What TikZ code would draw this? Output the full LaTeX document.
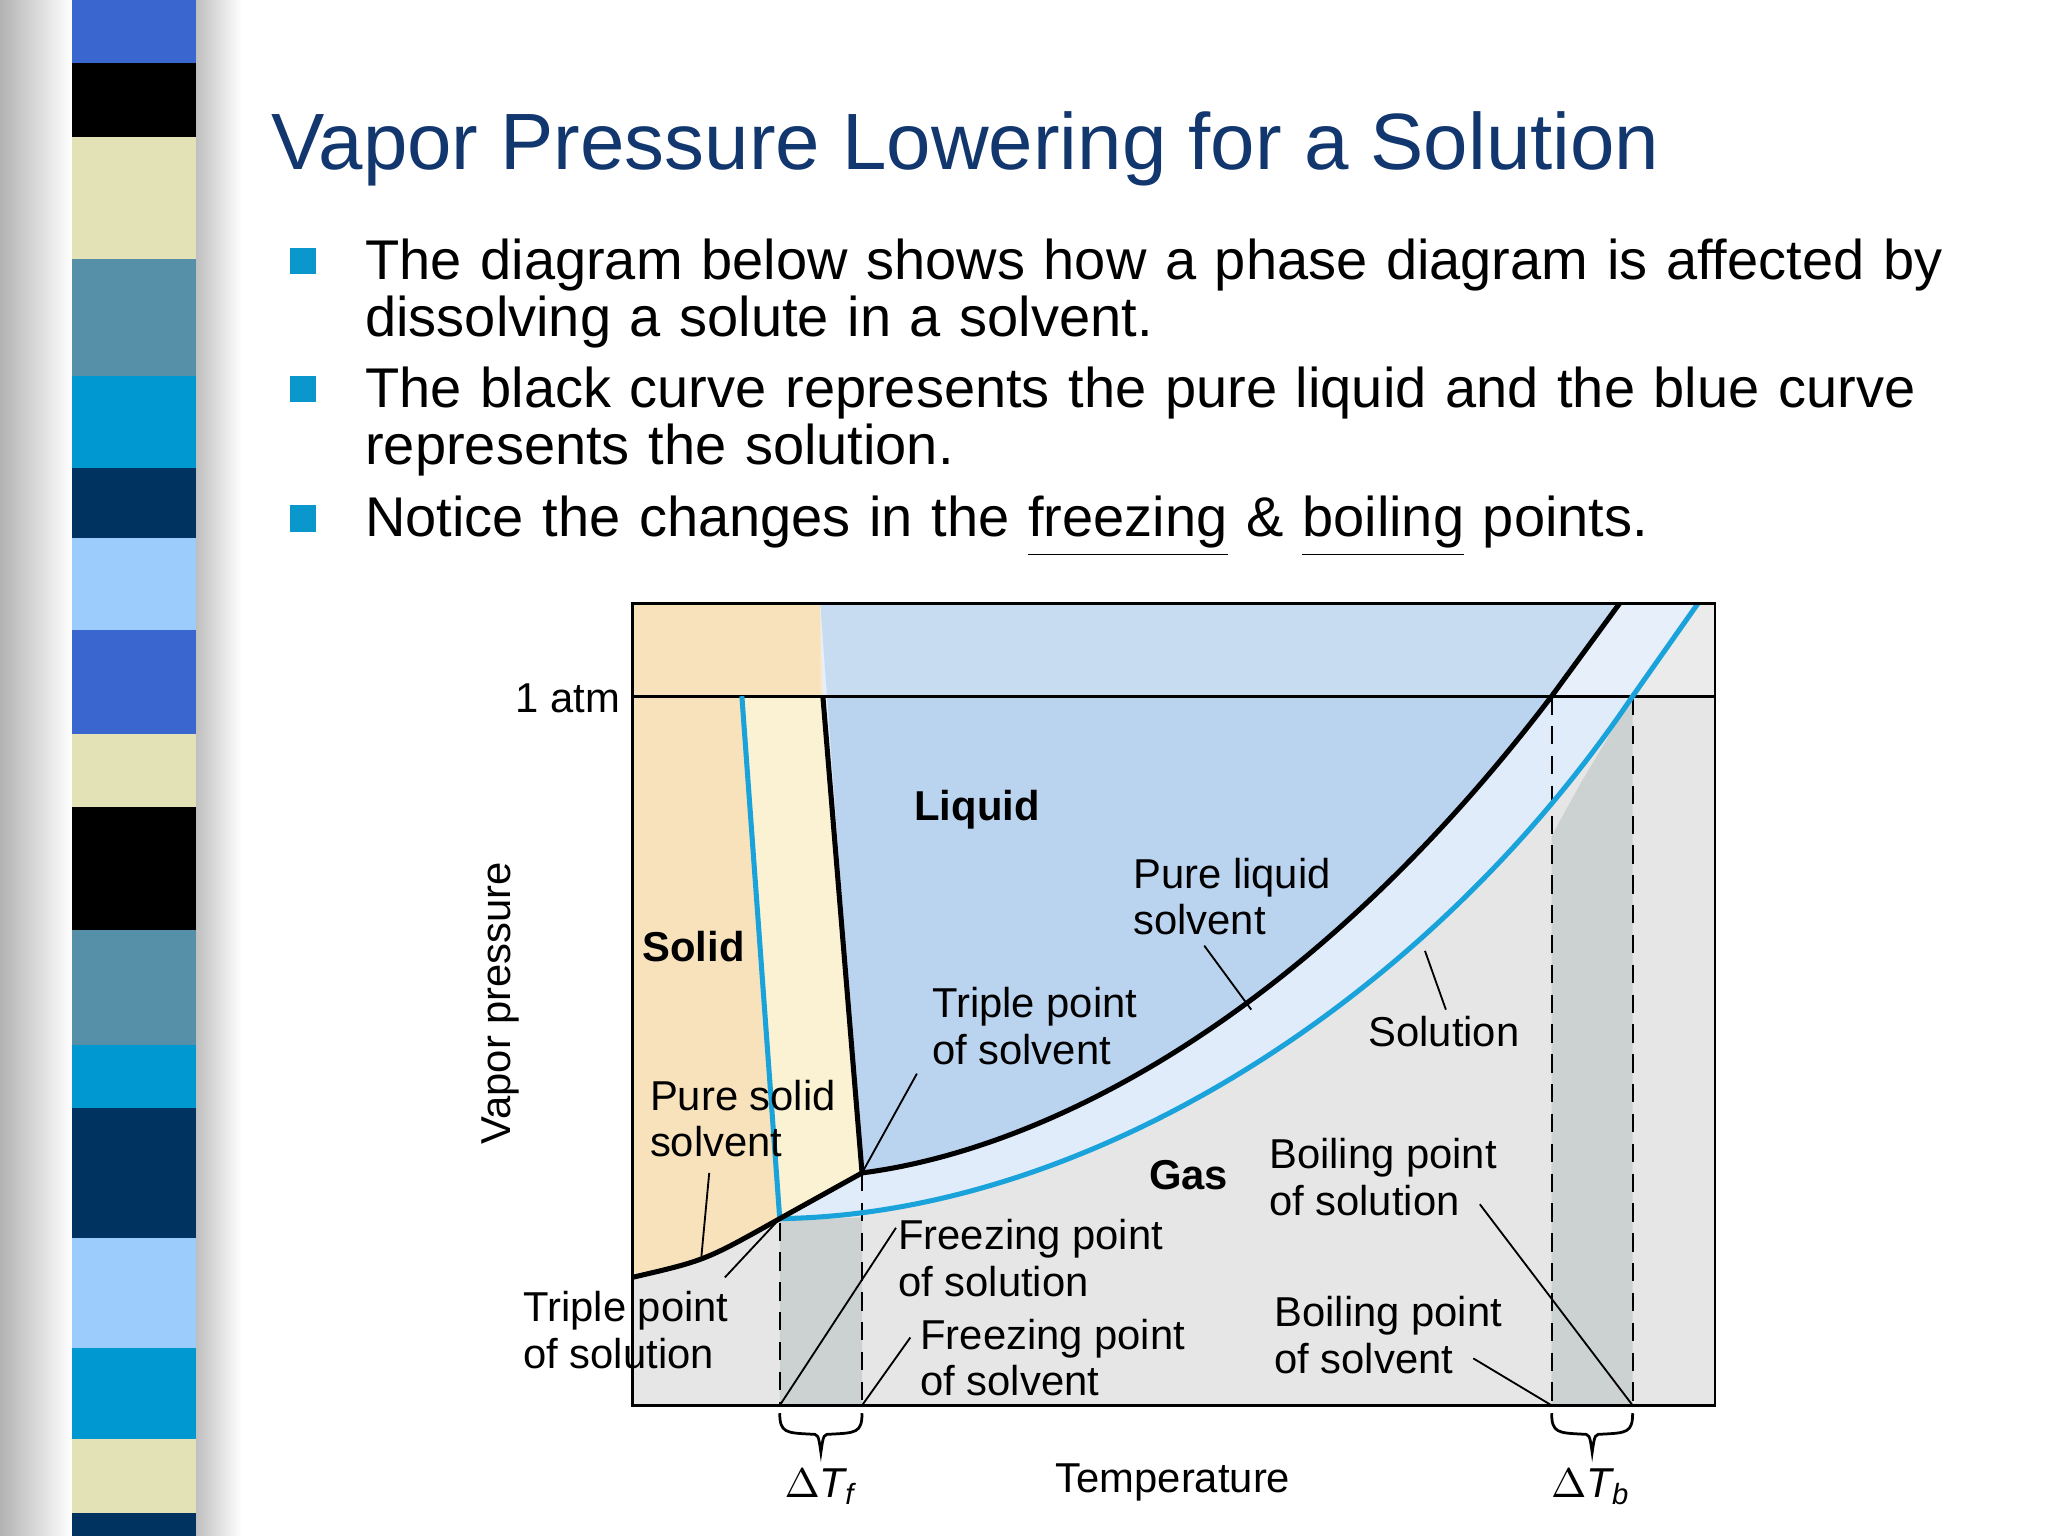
\documentclass[tikz,border=0pt]{standalone}
\usepackage{fontspec}
\setmainfont{Liberation Sans}
\usetikzlibrary{calc}
\definecolor{ttl}{HTML}{12366E}
\definecolor{bul}{HTML}{0A98CC}
\definecolor{gas}{HTML}{E6E6E6}
\definecolor{pale}{HTML}{E0ECF9}
\definecolor{liq}{HTML}{BAD3EE}
\definecolor{sol}{HTML}{F8E2BC}
\definecolor{cream}{HTML}{FBF2D4}
\definecolor{strip}{HTML}{CCD1D1}
\definecolor{cyanl}{HTML}{1AA3DA}
\definecolor{sA}{HTML}{3A66D0}
\definecolor{sB}{HTML}{000000}
\definecolor{sC}{HTML}{E2E2B6}
\definecolor{sD}{HTML}{5690A8}
\definecolor{sE}{HTML}{0098D0}
\definecolor{sF}{HTML}{00335F}
\definecolor{sG}{HTML}{9CCCFC}
\tikzset{
 lab/.style={font=\fontsize{9.1}{10.2}\selectfont, align=left, inner sep=0pt, anchor=north west},
 blab/.style={font=\bfseries\fontsize{9.1}{10}\selectfont, inner sep=0pt},
 ptr/.style={black, line width=0.4pt},
 dsh/.style={black, dashed, dash pattern=on 4pt off 2.5pt, line width=0.5pt},
 btxt/.style={font=\fontsize{12.2}{12.4}\selectfont, align=left, inner sep=0pt, anchor=north west, text width=12.4cm},
 bsq/.style={fill=bul, minimum size=2mm, inner sep=0pt}
}
\newcommand{\ul}[1]{\underline{\smash{#1}\vphantom{x}}}
\begin{document}
\begin{tikzpicture}[x=0.1mm,y=-0.1mm]
\useasboundingbox (0,0) rectangle (1568,1176);
\fill[white] (0,0) rectangle (1568,1176);
% left shadow
\shade[left color=gray!60, right color=white] (0,0) rectangle (55,1176);
\shade[left color=gray!50, right color=white] (150,0) rectangle (185,1176);
% stripes
\foreach \a/\b/\c/\o in {0/48/sA/10, 48/105/sB/0, 105/198/sC/15, 198/288/sD/5, 288/358/sE/12, 358/412/sF/15, 412/482/sG/12, 482/562/sA/8, 562/618/sC/0, 618/712/sB/0, 712/800/sD/0, 800/848/sE/0, 848/948/sF/0, 948/1032/sG/0, 1032/1102/sE/0, 1102/1158/sC/0, 1158/1176/sF/0}{
  \fill[\c] (55+\o,\a) rectangle (150,\b+0.5);
  \fill[\c] (55,\a) rectangle (150-\o,\b+0.5);
}
% title
\node[font=\fontsize{17.4}{18}\selectfont, text=ttl, anchor=west, inner sep=0pt] (title) at (207,114) {Vapor Pressure Lowering for a Solution};
% bullets
\node[bsq] (b1) at (232,200) {};
\node[bsq] (b2) at (232,298) {};
\node[bsq] (b3) at (232,397) {};
\node[btxt] (t1) at (279,182) {The diagram below shows how a phase diagram is affected by dissolving a solute in a solvent.};
\node[btxt] (t2) at (279,280) {The black curve represents the pure liquid and the blue curve represents the solution.};
\node[btxt] (t3) at (279,379) {Notice the changes in the \underline{freezing} \& \underline{boiling} points.};
% diagram regions
\fill[gas] (484,462) rectangle (1313,1076);
\fill[pale] (484,978) .. controls (540,965) .. (597,933) .. controls (830,930) and (1090,770) .. (1250,533) -- (1300,462) -- (484,462) -- cycle;
\fill[liq] (660,898) .. controls (800,880) and (1000,780) .. (1188,533) -- (1240,462) -- (628,462) -- cycle;
\fill[sol] (484,462) -- (628,462) -- (630,533) -- (660,898) -- (597,933) .. controls (540,965) .. (484,978) -- cycle;
\fill[cream] (568,533) -- (597,933) -- (660,898) -- (630,533) -- cycle;
\fill[white, opacity=0.2] (628,462) rectangle (1313,533);
\fill[strip] (597,934) .. controls (620,934) .. (660,932) -- (660,1076) -- (597,1076) -- cycle;
\fill[strip] (1188,640) -- (1210,600) -- (1250,533) -- (1250,1076) -- (1188,1076) -- cycle;
% lines
\draw[black, line width=0.6pt] (484,533) -- (1313,533);
\draw[dsh] (597,936) -- (597,1076);
\draw[dsh] (660,898) -- (660,1076);
\draw[dsh] (1188,533) -- (1188,1076);
\draw[dsh] (1250,533) -- (1250,1076);
\draw[cyanl, line width=1.1pt] (568,533) -- (597,933);
\draw[cyanl, line width=1.1pt] (597,933) .. controls (830,930) and (1090,770) .. (1250,533) -- (1300,462);
\draw[black, line width=1.1pt] (484,978) .. controls (540,965) .. (597,933) -- (660,898);
\draw[black, line width=1.1pt] (630,533) -- (660,898) .. controls (800,880) and (1000,780) .. (1188,533) -- (1240,462);
\draw[black, line width=0.6pt] (484,462) rectangle (1313,1076);
% labels
\node[lab, anchor=west] (l1atm) at (394,535) {1 atm};
\node[font=\fontsize{9.1}{10}\selectfont, rotate=90, inner sep=0pt] (vp) at (383,768) {Vapor pressure};
\node[font=\fontsize{9.1}{10}\selectfont, inner sep=0pt] (temp) at (898,1135) {Temperature};
\node[blab] (solid) at (531,725) {Solid};
\node[blab] (liquid) at (748,620) {Liquid};
\node[blab] (gasl) at (910,900) {Gas};
\node[lab] (tps) at (400,988) {Triple point\\of solution};
\node[lab] (pss) at (497,826) {Pure solid\\solvent};
\node[lab] (tpv) at (713,755) {Triple point\\of solvent};
\node[lab] (pls) at (867,656) {Pure liquid\\solvent};
\node[lab] (soln) at (1047,777) {Solution};
\node[lab] (bps) at (971,871) {Boiling point\\of solution};
\node[lab] (bpv) at (975,992) {Boiling point\\of solvent};
\node[lab] (fps) at (687,933) {Freezing point\\of solution};
\node[lab] (fpv) at (704,1009) {Freezing point\\of solvent};
% pointers
\coordinate (c1) at (597,933); \coordinate (c2) at (537,962); \coordinate (c3) at (660,898);
\coordinate (c4) at (958,773); \coordinate (c5) at (1107,773); \coordinate (c6) at (1250,1076);
\coordinate (c7) at (1188,1076); \coordinate (c8) at (597,1076); \coordinate (c9) at (660,1076);
\draw[ptr] (555,978) -- (c1);
\draw[ptr] (543,898) -- (c2);
\draw[ptr] (702,822) -- (c3);
\draw[ptr] (922,724) -- (c4);
\draw[ptr] (1091,728) -- (c5);
\draw[ptr] (1133,922) -- (c6);
\draw[ptr] (1128,1040) -- (c7);
\draw[ptr] (686,940) -- (c8);
\draw[ptr] (697,1024) -- (c9);
% braces
\foreach \l/\r/\n in {597/660/f, 1188/1250/b}{
  \draw[black, line width=0.6pt] (\l,1082) .. controls (\l,1097) and (\l+5,1097) .. ({(\l+\r)/2-8},1098) .. controls ({(\l+\r)/2-2},1098) .. ({(\l+\r)/2},1112)
    .. controls ({(\l+\r)/2+2},1098) .. ({(\l+\r)/2+8},1098) .. controls (\r-5,1097) and (\r,1097) .. (\r,1082);
}
\node[font=\fontsize{9.1}{10}\selectfont, inner sep=0pt] (dtf) at (628,1138) {$\Delta\mathit{T_f}$};
\node[font=\fontsize{9.1}{10}\selectfont, inner sep=0pt] (dtb) at (1218,1138) {$\Delta\mathit{T_b}$};
\end{tikzpicture}
\end{document}
